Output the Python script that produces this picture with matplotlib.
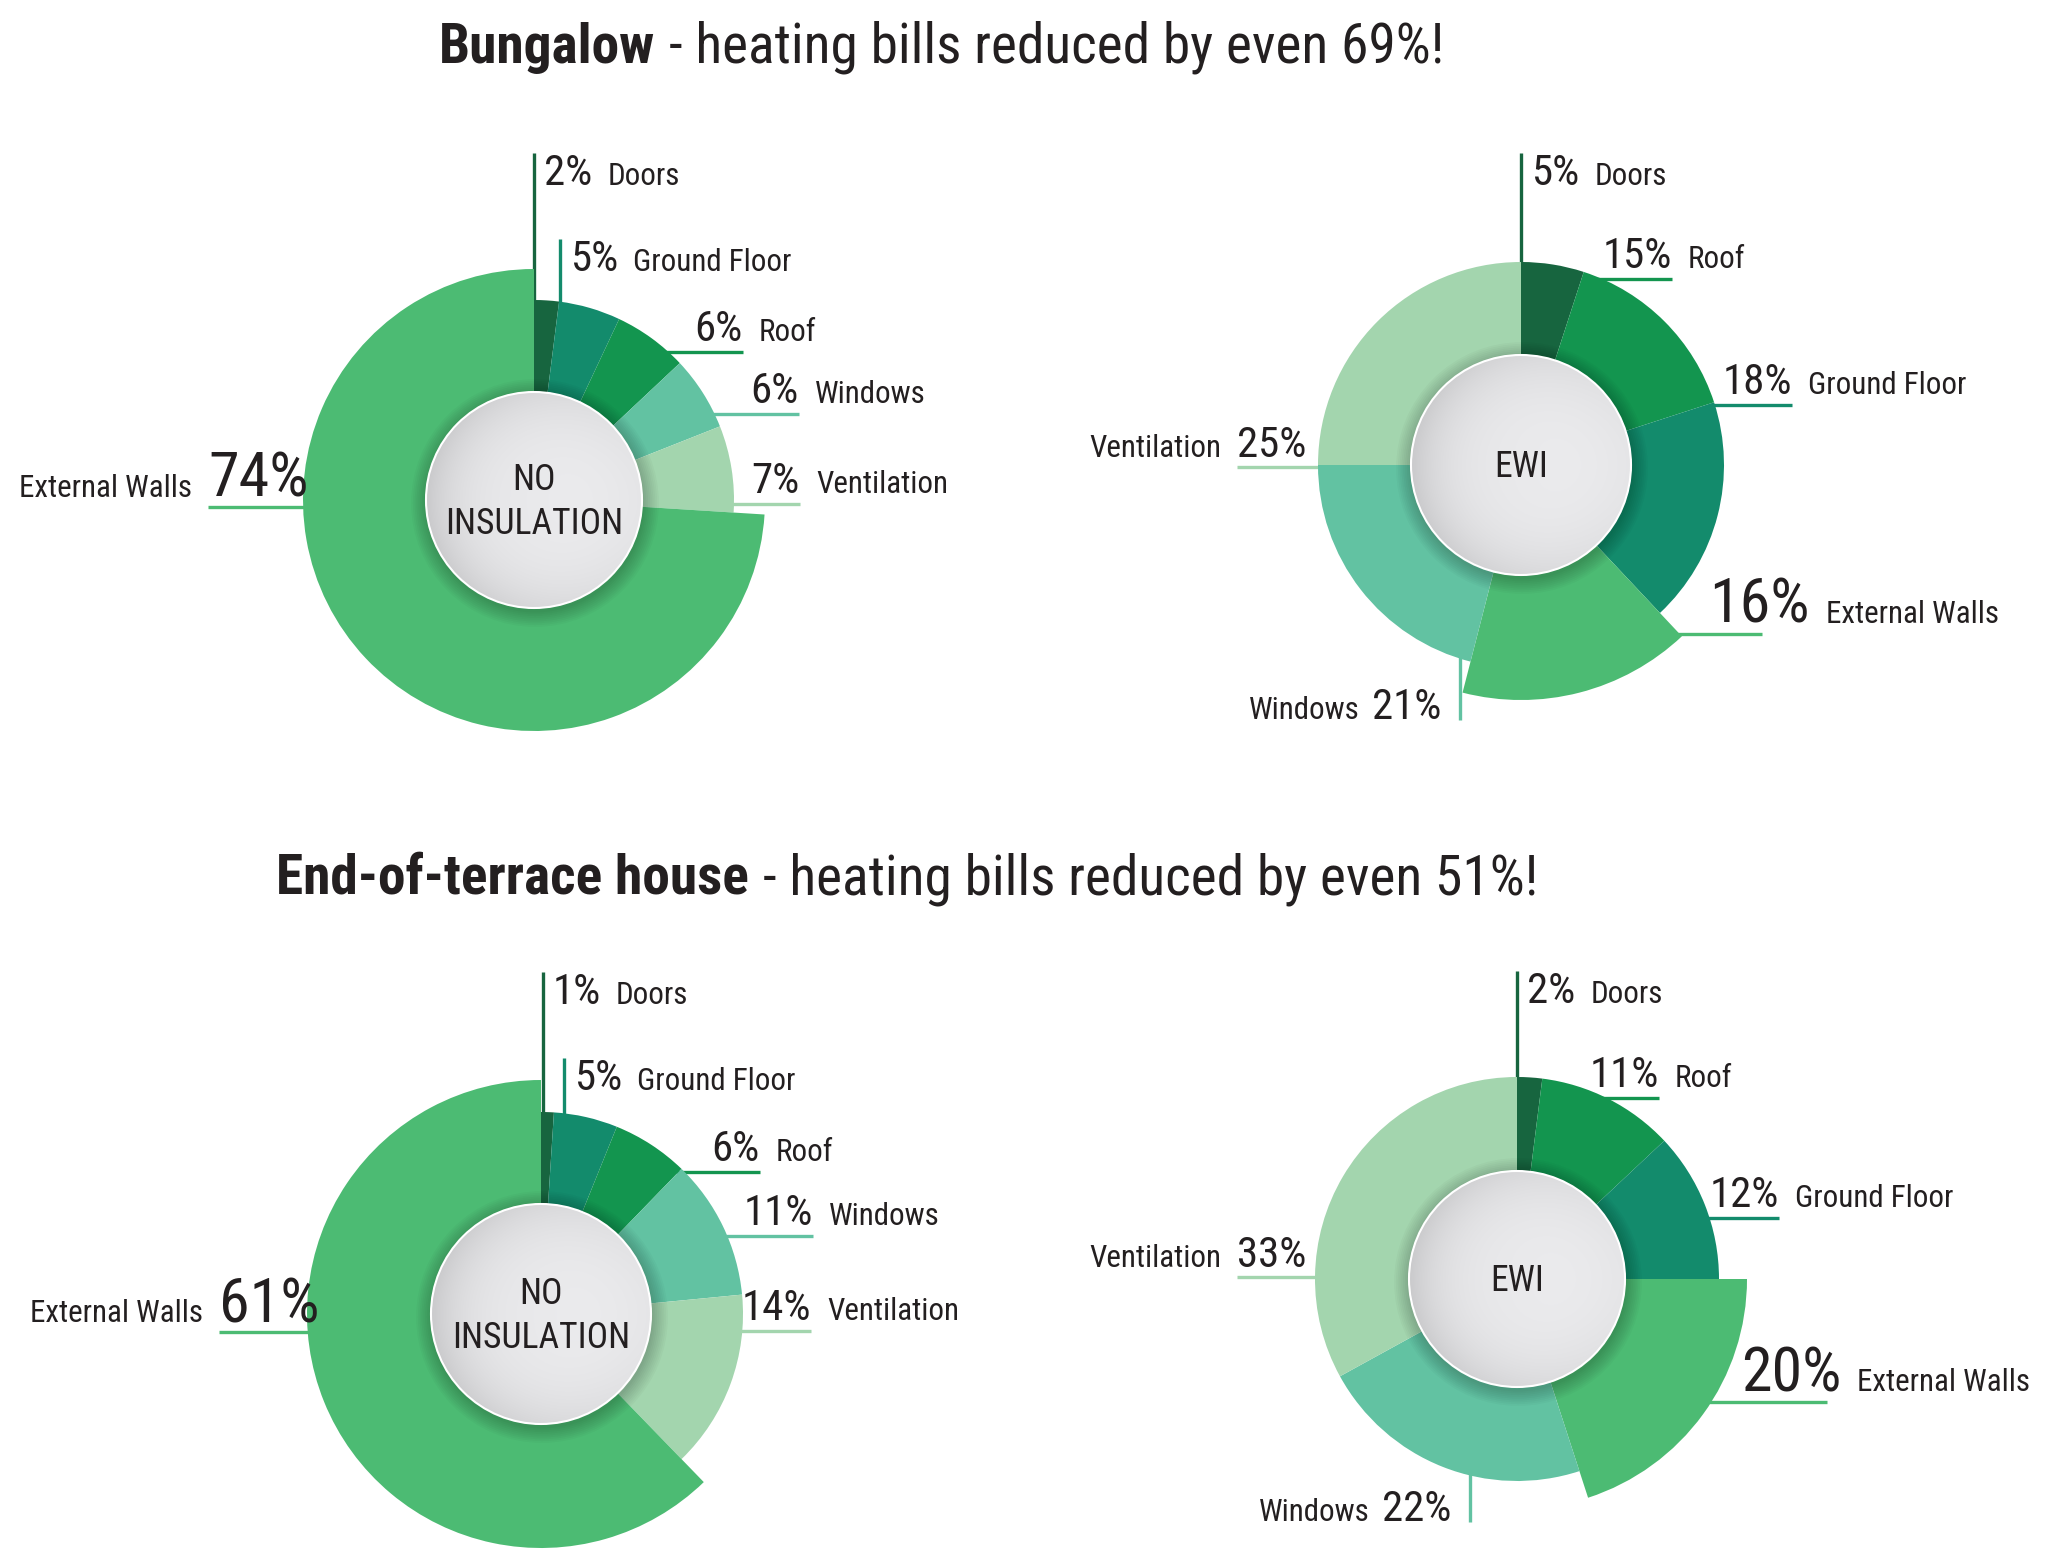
import numpy as np
import matplotlib
matplotlib.use("Agg")
import matplotlib.pyplot as plt
from matplotlib import font_manager as fm
from matplotlib.patches import Circle

W, H = 2048, 1551

# ---------------- datos ----------------
cats_sin = ["Doors", "Ground Floor", "Roof", "Windows", "Ventilation", "External Walls"]
cats_ewi = ["Doors", "Roof", "Ground Floor", "External Walls", "Windows", "Ventilation"]
bungalow_sin = [2, 5, 6, 6, 7, 74]
bungalow_ewi = [5, 15, 18, 16, 21, 25]
terrace_sin = [1, 5, 6, 11, 14, 61]
terrace_ewi = [2, 11, 12, 20, 22, 33]
casas = ["Bungalow", "End-of-terrace house"]
ahorro = [69, 51]
centros = ["NO\nINSULATION", "EWI"]

colores = {
    "Doors": "#17653f",
    "Ground Floor": "#138b6c",
    "Roof": "#13954f",
    "Windows": "#62c2a2",
    "Ventilation": "#a3d5ae",
    "External Walls": "#4cbb73",
}
TINTA = "#231f20"

# ---------------- fuente ----------------
nombres = {f.name for f in fm.fontManager.ttflist}
dejavu_cond = [f for f in fm.fontManager.ttflist
               if f.name == "DejaVu Sans" and "condensed" in str(f.stretch)]
if "Liberation Sans Narrow" in nombres:
    FUENTE, ESTIRA, ESCALA = "Liberation Sans Narrow", "normal", 1.0
elif "Roboto Condensed" in nombres:
    FUENTE, ESTIRA, ESCALA = "Roboto Condensed", "normal", 0.95
elif dejavu_cond:
    FUENTE, ESTIRA, ESCALA = "DejaVu Sans", "condensed", 0.9
else:
    FUENTE, ESTIRA, ESCALA = "Liberation Sans", "normal", 0.85

T_TITULO = 42 * ESCALA
T_PCT = 32.5 * ESCALA
T_GRANDE = 47 * ESCALA
T_NOMBRE = 23.5 * ESCALA
T_CENTRO = 27 * ESCALA

# ---------------- disposicion (pixeles, y desde arriba) ----------------
# categoria: (direccion, angulo desde arriba en sentido horario, largo de la linea, ajuste del %)
lay_A = {
    "Doors": ("up", 0, 147, 0),
    "Ground Floor": ("up", 7.6, 63, 0),
    "Roof": ("right", 40.1, 78, 0),
    "Windows": ("right", 63.6, 85, 0),
    "Ventilation": ("right", 91.2, 66, 0),
    "External Walls": ("left", 268.3, 95, 0),
}
lay_B = {
    "Doors": ("up", 0, 109, 0),
    "Roof": ("right", 19.2, 80, 0),
    "Ground Floor": ("right", 72.4, 77, 0),
    "External Walls": ("right", 137.5, 80, 48),
    "Windows": ("down", 198.1, 62, 0),
    "Ventilation": ("left", 269.5, 81, 0),
}
lay_C = {
    "Doors": ("up", 0.5, 140, 0),
    "Ground Floor": ("up", 6.7, 55, 0),
    "Roof": ("right", 43.5, 78, 0),
    "Windows": ("right", 66.5, 86, 0),
    "Ventilation": ("right", 95, 69, 0),
    "External Walls": ("left", 265.4, 89, 0),
}
lay_D = {
    "Doors": ("up", 0, 106, 0),
    "Roof": ("right", 22.5, 61, 0),
    "Ground Floor": ("right", 71.9, 70, 0),
    "External Walls": ("right", 123.4, 117, 14),
    "Windows": ("down", 194, 47, 0),
    "Ventilation": ("left", 270.6, 78, 0),
}

# (valores, categorias, centro, radio, radio paredes, radio interior, texto centro, disposicion)
graficos = [
    (bungalow_sin, cats_sin, (534, 500), 200, 231, 108, 0, lay_A),
    (bungalow_ewi, cats_ewi, (1521, 465), 203, 235, 110, 1, lay_B),
    (terrace_sin, cats_sin, (541, 1314), 202, 234, 110, 0, lay_C),
    (terrace_ewi, cats_ewi, (1517, 1279), 202, 230, 108, 1, lay_D),
]
titulos_pos = [(942, 63), (907, 894)]

fig = plt.figure(figsize=(W / 100, H / 100), dpi=100)
fig.patch.set_facecolor("white")
ax = fig.add_axes([0, 0, 1, 1])
ren = fig.canvas.get_renderer()


def ancho(t):
    return t.get_window_extent(ren).width


def texto(x, y, s, size, ha="left", weight="normal"):
    return ax.text(x, y, s, fontsize=size, ha=ha, va="baseline", color=TINTA,
                   family=FUENTE, fontstretch=ESTIRA, fontweight=weight, zorder=6)


# gradiente del circulo central
n = 300
u, v = np.meshgrid(np.linspace(-1, 1, n), np.linspace(-1, 1, n))
rr = np.clip(np.sqrt(u ** 2 + v ** 2), 0, 1)
brillo = 0.915 + 0.02 * u - 0.07 * rr ** 3 * (1 - 0.5 * u)
gris = np.dstack([brillo, brillo, np.clip(brillo + 0.008, 0, 1)])

for valores, cats, (cx, cy), r, R, rin, ic, lay in graficos:
    cyu = H - cy
    cuñas, _ = ax.pie(valores, colors=[colores[c] for c in cats], startangle=90,
                      counterclock=False, radius=r, center=(cx, cyu), frame=True,
                      wedgeprops=dict(linewidth=0, zorder=2))
    for cuña, c in zip(cuñas, cats):
        if c == "External Walls":
            cuña.set_radius(R)

    # sombra suave
    for k in range(9):
        ax.add_patch(Circle((cx + 1, cyu - 3), rin + 1.5 + k * 1.8, facecolor="black",
                            edgecolor="none", alpha=0.022, zorder=3))
    clip = Circle((cx, cyu), rin, transform=ax.transData)
    im = ax.imshow(gris, extent=(cx - rin, cx + rin, cyu - rin, cyu + rin), origin="lower",
                   interpolation="bilinear", zorder=4)
    im.set_clip_path(clip)
    ax.add_patch(Circle((cx, cyu), rin, facecolor="none", edgecolor="white", lw=1.5, zorder=5))
    ax.text(cx, cyu - 2, centros[ic], fontsize=T_CENTRO, ha="center", va="center",
            multialignment="center", linespacing=1.25, color=TINTA, family=FUENTE,
            fontstretch=ESTIRA, zorder=6)

    # etiquetas con lineas guia
    for c, val in zip(cats, valores):
        dire, ang, largo, ajuste = lay[c]
        rho = (R if c == "External Walls" else r) - 6
        a = np.radians(ang)
        x0, y0 = cx + rho * np.sin(a), cyu + rho * np.cos(a)
        dx, dy = {"up": (0, 1), "down": (0, -1), "right": (1, 0), "left": (-1, 0)}[dire]
        x1, y1 = x0 + dx * (largo + (6 if dx else 0)), y0 + dy * (largo + (6 if dy else 0))
        ax.plot([x0, x1], [y0, y1], color=colores[c], lw=2.4, solid_capstyle="butt", zorder=1)

        tam = T_GRANDE if c == "External Walls" else T_PCT
        pct = f"{val}%"
        if dire == "right":
            tp = texto(x1 + ajuste, y1 + 11, pct, tam, ha="right")
            texto(x1 + ajuste + 16, y1 + 11, c, T_NOMBRE)
        elif dire == "left":
            tp = texto(x1, y1 + 10, pct, tam, ha="left")
            texto(x1 - 16, y1 + 10, c, T_NOMBRE, ha="right")
        elif dire == "up":
            tp = texto(x1 + 10, y1 - 32, pct, tam)
            texto(x1 + 10 + ancho(tp) + 15, y1 - 32, c, T_NOMBRE)
        else:
            tp = texto(x1 - 18, y1 + 1, pct, tam, ha="right")
            texto(x1 - 18 - ancho(tp) - 13, y1 + 1, c, T_NOMBRE, ha="right")

# titulos
for casa, pc, (xc, yb) in zip(casas, ahorro, titulos_pos):
    t1 = texto(0, H - yb, casa, T_TITULO, weight="bold")
    t2 = texto(0, H - yb, f"- heating bills reduced by even {pc}%!", T_TITULO)
    w1, w2 = ancho(t1), ancho(t2)
    hueco = 14
    x0 = xc - (w1 + hueco + w2) / 2
    t1.set_x(x0)
    t2.set_x(x0 + w1 + hueco)

ax.set_xlim(0, W)
ax.set_ylim(0, H)
ax.set_aspect("auto")
ax.axis("off")
fig.savefig("out.png", dpi=100, facecolor="white")
